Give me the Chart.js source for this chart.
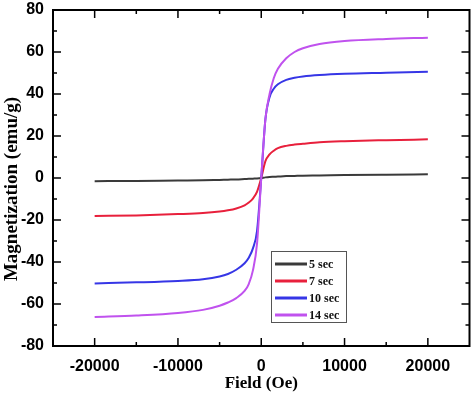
<!DOCTYPE html>
<html>
<head>
<meta charset="utf-8">
<script src="https://cdn.jsdelivr.net/npm/chart.js@4.4.1/dist/chart.umd.min.js"></script>
<style>
  html, body { margin: 0; padding: 0; background: #fff; }
  #wrap { width: 474px; height: 394px; }
</style>
</head>
<body>
<div id="wrap"><canvas id="mh" width="474" height="394"></canvas></div>
<script>
// applied field (Oe)
const fields = [-20000, -15000, -10000, -7000, -5000, -4000, -3000, -2000, -1500, -1000, -500, 0,
  500, 1000, 1500, 2000, 3000, 4000, 5000, 7000, 10000, 15000, 20000];
// magnetization (emu/g)
const mag5 = [-1.5, -1.4, -1.2, -1.1, -0.9, -0.8, -0.7, -0.5, -0.4, -0.3, -0.2, 0,
  0.3, 0.5, 0.6, 0.7, 0.9, 1.0, 1.1, 1.2, 1.4, 1.6, 1.75];
const mag7 = [-18.1, -17.8, -17.2, -16.7, -16.0, -15.4, -14.5, -13.0, -11.7, -9.8, -6.5, 0,
  8, 11.3, 13, 14.2, 15.3, 15.9, 16.3, 17, 17.5, 18, 18.4];
const mag10 = [-50.2, -49.7, -49, -48.2, -46.9, -45.7, -43.7, -40.6, -38, -33.5, -25, 0,
  28, 38.5, 42.5, 44.6, 46.7, 47.7, 48.3, 49, 49.6, 50.1, 50.6];
const mag14 = [-66.2, -65.5, -64.3, -62.8, -60.8, -59.3, -57.2, -53.8, -50.5, -44, -31, 0,
  28, 40, 47.5, 52, 57, 60, 61.8, 63.8, 65.2, 66.2, 66.8];
const seriesLabels = ["5 sec", "7 sec", "10 sec", "14 sec"];
const seriesColors = ["#3a3a3a", "#e8203c", "#3636e6", "#c052ee"];
const yTitle = "Magnetization (emu/g)";

const toPoints = (arr) => arr.map((v, i) => ({ x: fields[i], y: v }));
const allSeries = [mag5, mag7, mag10, mag14];

const frameAndTicks = {
  id: "frameAndTicks",
  afterDatasetsDraw(chart) {
    const { ctx, chartArea: a, scales: { x, y } } = chart;
    ctx.save();
    ctx.strokeStyle = "#000";
    ctx.lineWidth = 1.5;
    ctx.beginPath();
    x.ticks.forEach((t) => {
      if (t.value <= x.min || t.value >= x.max) return;
      const px = x.getPixelForValue(t.value);
      const len = t.value % 10000 === 0 ? 8 : 4;
      ctx.moveTo(px, a.bottom); ctx.lineTo(px, a.bottom - len);
      ctx.moveTo(px, a.top); ctx.lineTo(px, a.top + len);
    });
    y.ticks.forEach((t) => {
      if (t.value <= y.min || t.value >= y.max) return;
      const py = y.getPixelForValue(t.value);
      const len = t.value % 20 === 0 ? 8 : 4;
      ctx.moveTo(a.left, py); ctx.lineTo(a.left + len, py);
      ctx.moveTo(a.right, py); ctx.lineTo(a.right - len, py);
    });
    ctx.stroke();
    ctx.lineWidth = 2;
    ctx.strokeRect(a.left, a.top, a.right - a.left, a.bottom - a.top);

    // y axis title, sits a bit below the middle like the original
    ctx.save();
    ctx.translate(12.5, 189);
    ctx.rotate(-Math.PI / 2);
    ctx.font = "bold 19px 'Liberation Serif', 'Times New Roman', serif";
    ctx.fillStyle = "#000";
    ctx.textAlign = "center";
    ctx.textBaseline = "middle";
    ctx.fillText(yTitle, 0, 0);
    ctx.restore();

    // legend box inside the plot
    const bx = 271, by = 251, bw = 75, bh = 71;
    ctx.fillStyle = "#fff";
    ctx.fillRect(bx, by, bw, bh);
    ctx.lineWidth = 1;
    ctx.strokeStyle = "#555";
    ctx.strokeRect(bx + 0.5, by + 0.5, bw, bh);
    ctx.font = "bold 12px 'Liberation Serif', 'Times New Roman', serif";
    ctx.textBaseline = "middle";
    chart.data.datasets.forEach((ds, i) => {
      const ry = 264 + i * 17;
      ctx.strokeStyle = ds.borderColor;
      ctx.lineWidth = 3;
      ctx.beginPath();
      ctx.moveTo(275, ry); ctx.lineTo(307, ry);
      ctx.stroke();
      ctx.fillStyle = "#111";
      ctx.fillText(ds.label, 309, ry + 1);
    });
    ctx.restore();
  }
};

const tickFont = { family: "'Liberation Sans', Arial, sans-serif", size: 16, weight: "bold" };
const titleFont = { family: "'Liberation Serif', 'Times New Roman', serif", size: 17, weight: "bold" };

new Chart(document.getElementById("mh"), {
  type: "scatter",
  data: {
    datasets: allSeries.map((arr, i) => ({
      label: seriesLabels[i],
      data: toPoints(arr),
      showLine: true,
      borderColor: seriesColors[i],
      backgroundColor: seriesColors[i],
      borderWidth: 2,
      pointRadius: 0,
      cubicInterpolationMode: "monotone",
      order: 3 - i
    }))
  },
  options: {
    responsive: false,
    animation: false,
    layout: { padding: { top: 10, right: 4.5, left: 0, bottom: 0 } },
    plugins: { legend: { display: false }, tooltip: { enabled: false } },
    scales: {
      x: {
        type: "linear",
        min: -25000,
        max: 25000,
        grid: { display: false, drawTicks: false },
        border: { display: false },
        afterFit: (s) => {
          s.height = 48;
          s.paddingLeft = 0;
          s.paddingRight = 0;
        },
        ticks: {
          stepSize: 5000,
          padding: 11,
          maxRotation: 0,
          minRotation: 0,
          autoSkip: false,
          color: "#000",
          font: tickFont,
          callback: (v) => (v % 10000 === 0 ? String(v) : "")
        },
        title: {
          display: true,
          text: "Field (Oe)",
          color: "#000",
          padding: { top: 0, bottom: 0 },
          font: titleFont
        }
      },
      y: {
        min: -80,
        max: 80,
        grid: { display: false, drawTicks: false },
        border: { display: false },
        afterFit: (s) => {
          s.width = 53;
          s.paddingTop = 0;
          s.paddingBottom = 0;
        },
        ticks: {
          stepSize: 10,
          padding: 9,
          autoSkip: false,
          color: "#000",
          font: tickFont,
          callback: (v) => (v % 20 === 0 ? String(v) : "")
        },
        title: { display: false }
      }
    }
  },
  plugins: [frameAndTicks]
});
</script>
</body>
</html>
